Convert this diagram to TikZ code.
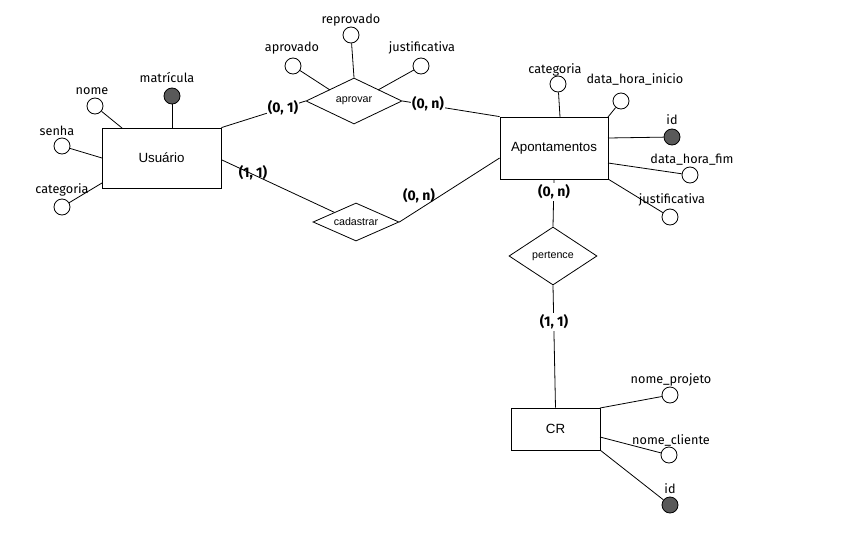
\documentclass[tikz,border=0pt]{standalone}
\usepackage{fontspec}
\setmainfont{Fira Sans}
\newfontfamily\arialf{Liberation Sans}
\usetikzlibrary{shapes.geometric}
\begin{document}
\begin{tikzpicture}[x=0.75pt,y=-0.75pt,
 ent/.style={draw,rectangle,font=\arialf\fontsize{10}{12}\selectfont},
 rel/.style={draw,diamond,aspect=2,inner sep=0pt,font=\arialf\fontsize{8}{10}\selectfont},
 att/.style={draw,circle,minimum size=12pt,inner sep=0pt,fill=white},
 key/.style={att,fill=black!65},
 lab/.style={font=\fontsize{9.5}{11}\selectfont,inner sep=1pt},
 card/.style={font=\bfseries\fontsize{10.5}{12}\selectfont,inner sep=1pt},
 every path/.style={line width=0.6pt}]
\useasboundingbox (0,0) rectangle (844,557);
% entities
\node[ent,minimum width=89.25pt,minimum height=45pt] (u) at (161.5,158) {Usuário};
\node[ent,minimum width=81pt,minimum height=46.5pt] (ap) at (554,148) {Apontamentos};
\node[ent,minimum width=66.75pt,minimum height=31.5pt] (cr) at (555.5,429) {CR};
% relations
\node[rel,minimum width=72pt,minimum height=34.5pt] (apr) at (354,101) {aprovar};
\node[rel,minimum width=64.5pt,minimum height=28.5pt] (cad) at (356,222) {cadastrar};
\node[rel,minimum width=66pt,minimum height=43.5pt] (per) at (553,256) {pertence};
% connectors
\draw (u.north east) -- (apr.west);
\node[card,fill=white] at (283,108) {(0, 1)};
\draw (apr.east) -- (ap.north west);
\node[card,fill=white] at (428,104) {(0, n)};
\draw (222,160) coordinate (uc) -- (cad.north west) ;
\node[card] at (253,173) {(1, 1)};
\draw (cad.east) -- (ap.west |- 0,158) coordinate (apc);
\node[card] at (419,196) {(0, n)};
\draw (ap.south) -- (per.north);
\node[card,fill=white] at (554,192) {(0, n)};
\draw (per.south) -- (cr.north);
\node[card,fill=white] at (554,322) {(1, 1)};
% Usuario attributes
\node[att] (a1) at (95,106) {}; \node[lab] at (92,91) {nome};
\node[key] (a2) at (172,96) {}; \node[lab] at (167,78) {matrícula};
\node[att] (a3) at (62,146) {}; \node[lab] at (57,131) {senha};
\node[att] (a4) at (62,207) {}; \node[lab] at (62,190) {categoria};
\draw (a1) -- (122,128); \draw (a2) -- (172,128);
\draw (a3) -- (102,158); \draw (a4) -- (102,183);
% aprovar attributes
\node[att] (b1) at (293,66) {}; \node[lab] at (292,48) {aprovado};
\node[att] (b2) at (351,35) {}; \node[lab] at (351,20) {reprovado};
\node[att] (b3) at (421,66) {}; \node[lab] at (422,48) {justificativa};
\draw (b1) -- (330,90); \draw (b2) -- (apr.north); \draw (b3) -- (378,90);
% Apontamentos attributes
\node[att] (c1) at (558,84) {}; \node[lab] at (555,70) {categoria};
\node[att] (c2) at (621,101) {}; \node[lab] at (635,79) {data\_hora\_inicio};
\node[key] (c3) at (672,137) {}; \node[lab] at (672,120) {id};
\node[att] (c4) at (690,175) {}; \node[lab] at (692,160) {data\_hora\_fim};
\node[att] (c5) at (670,217) {}; \node[lab] at (672,200) {justificativa};
\draw (c1) -- (560,117); \draw (c2) -- (608,117); \draw (c3) -- (608,138);
\draw (c4) -- (608,163); \draw (c5) -- (608,179);
% CR attributes
\node[att] (d1) at (670,395) {}; \node[lab] at (671,380) {nome\_projeto};
\node[att] (d2) at (669,455) {}; \node[lab] at (671,440) {nome\_cliente};
\node[key] (d3) at (670,505) {}; \node[lab] at (670,489) {id};
\draw (d1) -- (600,408); \draw (d2) -- (600,437); \draw (d3) -- (600,450);
\end{tikzpicture}
\end{document}
